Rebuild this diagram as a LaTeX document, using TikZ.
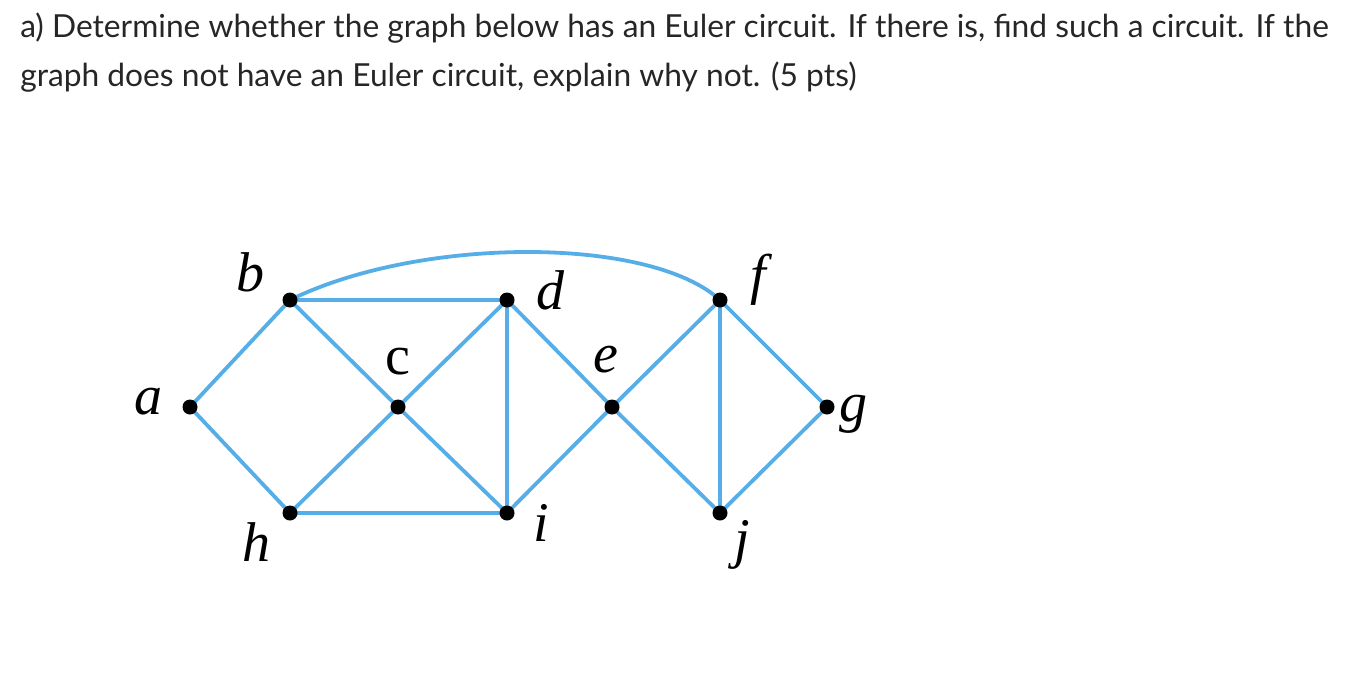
\documentclass[tikz,border=0pt]{standalone}
\usepackage{fontspec}
\setmainfont{Lato}
\newfontfamily\labfont{Liberation Serif}
\definecolor{edgeblue}{RGB}{86,174,232}
\begin{document}
\begin{tikzpicture}[x=0.75pt,y=-0.75pt,
  vtx/.style={circle,fill=black,inner sep=0pt,minimum size=15pt*0.75},
  edge/.style={draw=edgeblue,line width=3.8pt*0.75},
  lab/.style={font=\labfont\itshape\fontsize{42}{44}\selectfont}]
\useasboundingbox (0,0) rectangle (1348,674);
\node[anchor=base west,inner sep=0pt,font=\fontsize{23.8}{26}\selectfont,text=black!85] (t1) at (20,38) {a) Determine whether the graph below has an Euler circuit. If there is, find such a circuit. If the};
\node[anchor=base west,inner sep=0pt,font=\fontsize{23.8}{26}\selectfont,text=black!85] (t2) at (20,86) {graph does not have an Euler circuit, explain why not. (5 pts)};
\coordinate (a) at (190,407);
\coordinate (b) at (290,300);
\coordinate (d) at (507,300);
\coordinate (f) at (720,300);
\coordinate (c) at (398,407);
\coordinate (e) at (612,407);
\coordinate (g) at (827,407);
\coordinate (h) at (290,513);
\coordinate (i) at (507,513);
\coordinate (j) at (720,513);
\draw[edge] (a)--(b) (a)--(h) (b)--(d) (b)--(c) (c)--(d) (c)--(h) (c)--(i) (h)--(i) (d)--(i) (d)--(e) (e)--(i) (e)--(f) (e)--(j) (f)--(j) (f)--(g) (g)--(j);
\draw[edge] (b) .. controls (420,236) and (650,236) .. (f);
\foreach \v in {a,b,c,d,e,f,g,h,i,j} \node[vtx] (n\v) at (\v) {};
\node[lab] (la) at (148,402) {a};
\node[lab] (lb) at (250,272) {b};
\node[lab] (lc) at (398,362) {\upshape c};
\node[lab] (ld) at (550,290) {d};
\node[lab] (le) at (606,360) {e};
\node[lab] (lf) at (758,280) {f};
\node[lab] (lg) at (853,414) {g};
\node[lab] (lh) at (256,542) {h};
\node[lab] (li) at (541,523) {i};
\node[lab] (lj) at (742,545) {j};
\end{tikzpicture}
\end{document}
